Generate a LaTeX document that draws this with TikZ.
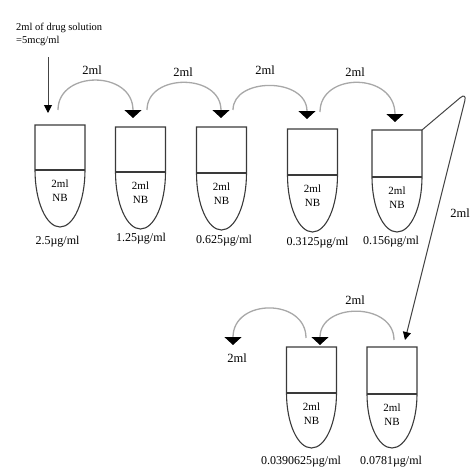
\documentclass[tikz,border=0pt]{standalone}
\usepackage{fontspec}
\setmainfont{Liberation Serif}
\usetikzlibrary{arrows.meta,calc}
\definecolor{arcgray}{HTML}{A8A8A8}
\definecolor{tubeline}{HTML}{3A3A3A}
\definecolor{darkline}{HTML}{444444}
\newcommand\mytube[5]{% name, cx, top, div, bot
  \coordinate (#1) at (#2,#3);
  \draw[tubestyle] (#2-25,#4) -- (#2-25,#3) -- (#2+25,#3) -- (#2+25,#4)
     .. controls (#2+25,{#4+0.552*(#5-#4)}) and (#2+13.8,#5) .. (#2,#5)
     .. controls (#2-13.8,#5) and (#2-25,{#4+0.552*(#5-#4)}) .. (#2-25,#4) -- cycle;
  \draw[tubestyle] (#2-25,#4) -- (#2+25,#4);
  \node[tubetext] (#1-a) at (#2,#4+14) {2ml};
  \node[tubetext] (#1-b) at (#2,#4+28) {NB};
}
\tikzset{
  tubestyle/.style={draw=tubeline, line width=1.1pt},
  tubetext/.style={font=\fontsize{11}{12}\selectfont, inner sep=0pt},
  conc/.style={font=\fontsize{12}{13}\selectfont, inner sep=0pt},
  mllabel/.style={font=\fontsize{12.5}{13}\selectfont, inner sep=0pt},
  garc/.style={draw=arcgray, line width=1.3pt, -{Triangle[width=17pt,length=8pt,color=black]}},
  darrow/.style={draw=darkline, line width=1pt, -{Triangle[width=8pt,length=8pt,color=black]}},
}
\begin{document}
\begin{tikzpicture}[x=1pt,y=-1pt]
\useasboundingbox (0,0) rectangle (474,474);
% tubes
\mytube{t1}{60}{125}{170}{227}
\mytube{t2}{140.5}{127}{172}{229}
\mytube{t3}{221.5}{127}{173}{230}
\mytube{t4}{312.5}{129}{175}{232}
\mytube{t5}{397}{130}{177}{232}
\mytube{t6}{311.5}{347}{393}{448}
\mytube{t7}{392}{347}{394}{448}
% concentrations
\node[conc] (c1) at (57.5,242) {2.5µg/ml};
\node[conc] (c2) at (141,239) {1.25µg/ml};
\node[conc] (c3) at (224,241) {0.625µg/ml};
\node[conc] (c4) at (317.5,243) {0.3125µg/ml};
\node[conc] (c5) at (391,242) {0.156µg/ml};
\node[conc] (c6) at (301,462) {0.0390625µg/ml};
\node[conc] (c7) at (391,462) {0.0781µg/ml};
% heading
\node[anchor=base west, inner sep=0pt, font=\fontsize{10.5}{12}\selectfont] (h1) at (16,30) {2ml of drug solution};
\node[anchor=base west, inner sep=0pt, font=\fontsize{10.5}{12}\selectfont] (h2) at (16,43) {=5mcg/ml};
% coordinates for connectors
\coordinate (v0) at (48,57);
\coordinate (v1) at (48,113);
\coordinate (a1s) at (58,110);   \coordinate (a1e) at (133,118);
\coordinate (a2s) at (147,110);  \coordinate (a2e) at (221,118);
\coordinate (a3s) at (233,110);  \coordinate (a3e) at (307,119);
\coordinate (a4s) at (320,112);  \coordinate (a4e) at (395,122);
\coordinate (a6s) at (394,340);  \coordinate (a6e) at (320,345);
\coordinate (a7s) at (306,338);  \coordinate (a7e) at (233,345);
\coordinate (bs) at (422,130);
\coordinate (bc) at (467,92);
\coordinate (be) at (405,340);
% connectors
\draw[darrow] (v0) -- (v1);
\draw[garc] (a1s) .. controls ($(a1s)+(0,-40)$) and ($(a1e)+(0,-48)$) .. (a1e);
\draw[garc] (a2s) .. controls ($(a2s)+(0,-37)$) and ($(a2e)+(0,-45)$) .. (a2e);
\draw[garc] (a3s) .. controls ($(a3s)+(0,-33)$) and ($(a3e)+(0,-42)$) .. (a3e);
\draw[garc] (a4s) .. controls ($(a4s)+(0,-40)$) and ($(a4e)+(0,-50)$) .. (a4e);
\draw[garc] (a6s) .. controls ($(a6s)+(0,-38)$) and ($(a6e)+(0,-43)$) .. (a6e);
\draw[garc] (a7s) .. controls ($(a7s)+(0,-40)$) and ($(a7e)+(0,-47)$) .. (a7e);
\draw[darrow, rounded corners=9pt] (bs) -- (bc) -- (be);
% 2ml labels
\node[mllabel] (m1) at (92,70) {2ml};
\node[mllabel] (m2) at (183,72) {2ml};
\node[mllabel] (m3) at (265,70) {2ml};
\node[mllabel] (m4) at (355,72) {2ml};
\node[mllabel] (m5) at (460,213) {2ml};
\node[mllabel] (m6) at (355,300) {2ml};
\node[mllabel] (m7) at (237,358) {2ml};
\end{tikzpicture}
\end{document}
